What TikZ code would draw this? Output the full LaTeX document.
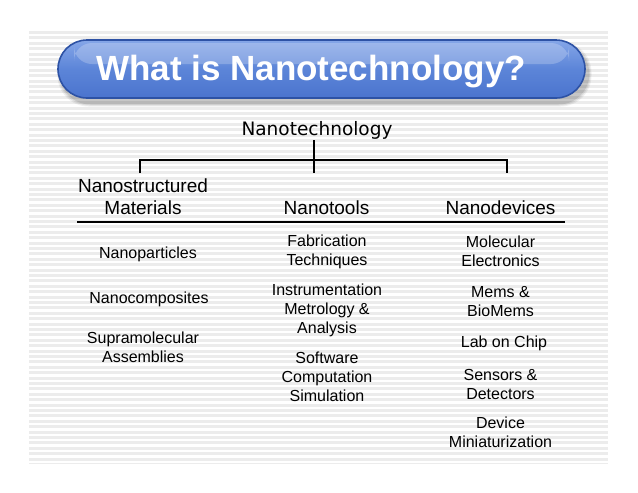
\documentclass[tikz,border=0pt]{standalone}
\usepackage{fontspec}
\setmainfont{Liberation Sans}
\newfontfamily\verd{DejaVu Sans}
\definecolor{stripegray}{HTML}{ECECEC}
\definecolor{pillborder}{HTML}{2D52A5}
\definecolor{pilltop}{HTML}{85A6E8}
\definecolor{pillmid}{HTML}{5C85D8}
\definecolor{pillbot}{HTML}{4B74CE}
\tikzset{
  item/.style={anchor=north, inner sep=0pt, align=center, font=\fontsize{16}{19}\selectfont},
  head/.style={anchor=base, inner sep=0pt, font=\fontsize{19}{22}\selectfont},
  tree/.style={line width=1.4pt, black},
}
\begin{document}
\begin{tikzpicture}[x=1pt,y=-1pt]
\useasboundingbox (0,0) rectangle (638,493);
\fill[white] (0,0) rectangle (638,493);
% striped background
\begin{scope}
\clip (29,31) rectangle (608,463);
\foreach \i in {0,...,80} {
  \fill[stripegray] (29,{31+\i*5.4}) rectangle (608,{31+\i*5.4+2.9});
}
\end{scope}
% title pill shadow
\foreach \k/\o in {7/0.06,5/0.08,3/0.10} {
  \fill[black,opacity=\o,rounded corners=31pt] ({58+3-\k/2},{40+5-\k/2}) rectangle ({585+3+\k/2},{98+5+\k/2});
}
% title pill
\shade[top color=pilltop, bottom color=pillbot, middle color=pillmid, rounded corners=29pt]
  (58,40) rectangle (585,98);
\fill[white,opacity=0.22,rounded corners=18pt] (74,43) rectangle (569,64);
\draw[pillborder,line width=1.6pt,rounded corners=29pt] (58,40) rectangle (585,98);
\node[anchor=base, inner sep=0pt, text=white, font=\fontsize{35}{40}\bfseries\selectfont] (title) at (311,80) {What is Nanotechnology?};
% tree
\node[anchor=base, inner sep=0pt, font=\verd\fontsize{18.5}{22}\selectfont] (nt) at (317,135) {Nanotechnology};
\node[head] (c1a) at (143,192) {Nanostructured};
\node[head] (c1) at (143,214) {Materials};
\node[head] (c2) at (326.5,214) {Nanotools};
\node[head] (c3) at (500.5,214) {Nanodevices};
\coordinate (top) at (314,140);
\coordinate (j) at (314,160);
\coordinate (mid) at (314,173);
\coordinate (l) at (140,160);
\coordinate (ld) at (140,173);
\coordinate (r) at (507,160);
\coordinate (rd) at (507,173);
\draw[tree] (top) -- (mid);
\draw[tree] (ld) -- (l) -- (r) -- (rd);
\coordinate (ul) at (77,222);
\coordinate (ur) at (565,222);
\draw[tree] (ul) -- (ur);
% column 1
\node[item] (a1) at (148,244.5) {\strut Nanoparticles};
\node[item] (a2) at (149,289.5) {\strut Nanocomposites};
\node[item] (a3) at (143,329.5) {\strut Supramolecular\\\strut Assemblies};
% column 2
\node[item] (b1) at (327,232.5) {\strut Fabrication\\\strut Techniques};
\node[item] (b2) at (327,281.5) {\strut Instrumentation\\\strut Metrology \&\\\strut Analysis};
\node[item] (b3) at (327,349.5) {\strut Software\\\strut Computation\\\strut Simulation};
% column 3
\node[item] (d1) at (500.5,233.5) {\strut Molecular\\\strut Electronics};
\node[item] (d2) at (500.5,283.5) {\strut Mems \&\\\strut BioMems};
\node[item] (d3) at (504,333.5) {\strut Lab on Chip};
\node[item] (d4) at (500.5,366.5) {\strut Sensors \&\\\strut Detectors};
\node[item] (d5) at (500.5,414.5) {\strut Device\\\strut Miniaturization};
\end{tikzpicture}
\end{document}
